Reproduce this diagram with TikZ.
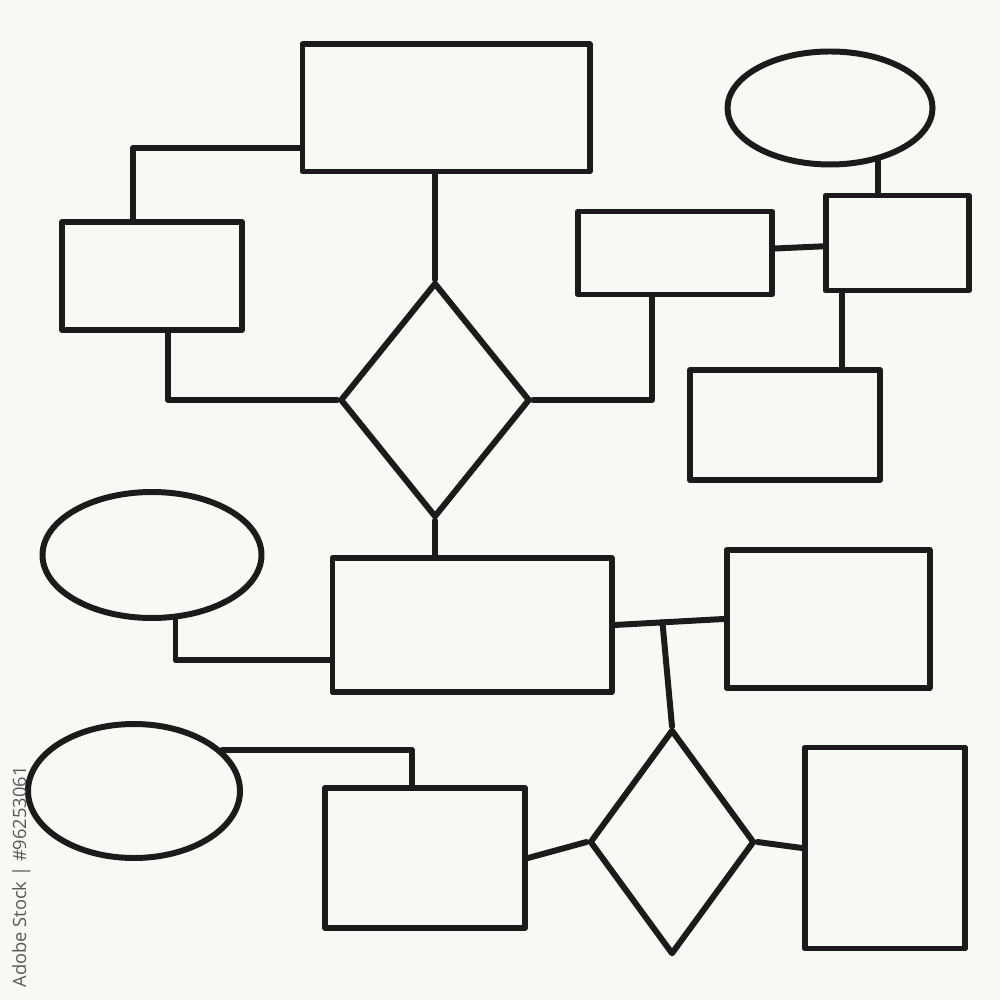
\documentclass[tikz,border=0pt]{standalone}
\usepackage{fontspec}
\newfontfamily\stockfont{Open Sans}
\usepackage{tikz}
\usetikzlibrary{shapes.geometric, calc}
\definecolor{paper}{HTML}{F7F9F4}
\definecolor{ink}{HTML}{1C1A1B}
\tikzset{
    sketch/.style={draw=ink, line width=1.7pt, line cap=round, line join=round},
    box/.style={sketch, rectangle, inner sep=0pt},
    oval/.style={sketch, ellipse, inner sep=0pt},
    choice/.style={sketch, diamond, inner sep=0pt},
}

\begin{document}
\begin{tikzpicture}
    \fill[paper] (0,0) rectangle (10,-10);
    \useasboundingbox (0,0) rectangle (10,-10);
    \node[box, minimum width=2.87cm, minimum height=1.27cm](r1)    at (4.46,-1.08) {};
    \node[box, minimum width=1.80cm, minimum height=1.08cm](r2)    at (1.52,-2.76) {};
    \node[choice, minimum width=1.90cm, minimum height=2.35cm](d1) at (4.35,-4.00) {};
    \node[box, minimum width=1.94cm, minimum height=0.83cm](r3)    at (6.75,-2.53) {};
    \node[oval, minimum width=2.05cm, minimum height=1.13cm](e1)   at (8.30,-1.08) {};
    \node[box, minimum width=1.43cm, minimum height=0.95cm](r4)    at (8.97,-2.43) {};
    \node[box, minimum width=1.90cm, minimum height=1.10cm](r5)    at (7.85,-4.25) {};
    \node[oval, minimum width=2.19cm, minimum height=1.26cm](e2)   at (1.52,-5.55) {};
    \node[box, minimum width=2.79cm, minimum height=1.34cm](r6)    at (4.72,-6.25) {};
    \node[box, minimum width=2.03cm, minimum height=1.38cm](r7)    at (8.28,-6.19) {};
    \node[oval, minimum width=2.12cm, minimum height=1.34cm](e3)   at (1.34,-7.91) {};
    \node[box, minimum width=2.00cm, minimum height=1.40cm](r8)    at (4.25,-8.58) {};
    \node[choice, minimum width=1.65cm, minimum height=2.25cm](d2) at (6.72,-8.42) {};
    \node[box, minimum width=1.60cm, minimum height=2.01cm](r9)    at (8.85,-8.48) {};
    \node[rotate=90, anchor=west, inner sep=0pt, text=black!65, font=\stockfont\fontsize{5.2}{6}\selectfont](stock)
        at (0.215,-9.88) {Adobe Stock | \#96253061};
    % Connections
    \draw[sketch] ([yshift=-0.4cm]r1.west) -| ([xshift=-0.19cm]r2.north);
    \draw[sketch] (d1.north |- r1.south) -- (d1.north);
    \draw[sketch] ([xshift=0.16cm]r2.south) |- (d1.west);
    \draw[sketch] (d1.east) -| ([xshift=-0.23cm]r3.south);
    \path (r3) edge[sketch] (r4);
    \draw[sketch] (e1.-48) -- (e1.-48 |- r4.north);
    \draw[sketch] ([xshift=-0.55cm]r4.south) -- ([xshift=-0.55cm]r4.south |- r5.north);
    \draw[sketch] (d1.south) -- (d1.south |- r6.north);
    \draw[sketch] (e2.-70) |- ([yshift=-0.35cm]r6.west);
    \draw[sketch] (r6.east) -- (r7.west);
    \coordinate (fork) at ($(r6.east)!0.44!(r7.west)$);
    \draw[sketch] (fork) -- (d2.north);
    \draw[sketch] (e3.25) -| ([xshift=-0.13cm]r8.north);
    \path
        (r8.east)
            edge[sketch] (d2.west)
        (d2.east)
            edge[sketch] (r9.west)
        ;
\end{tikzpicture}
\end{document}
